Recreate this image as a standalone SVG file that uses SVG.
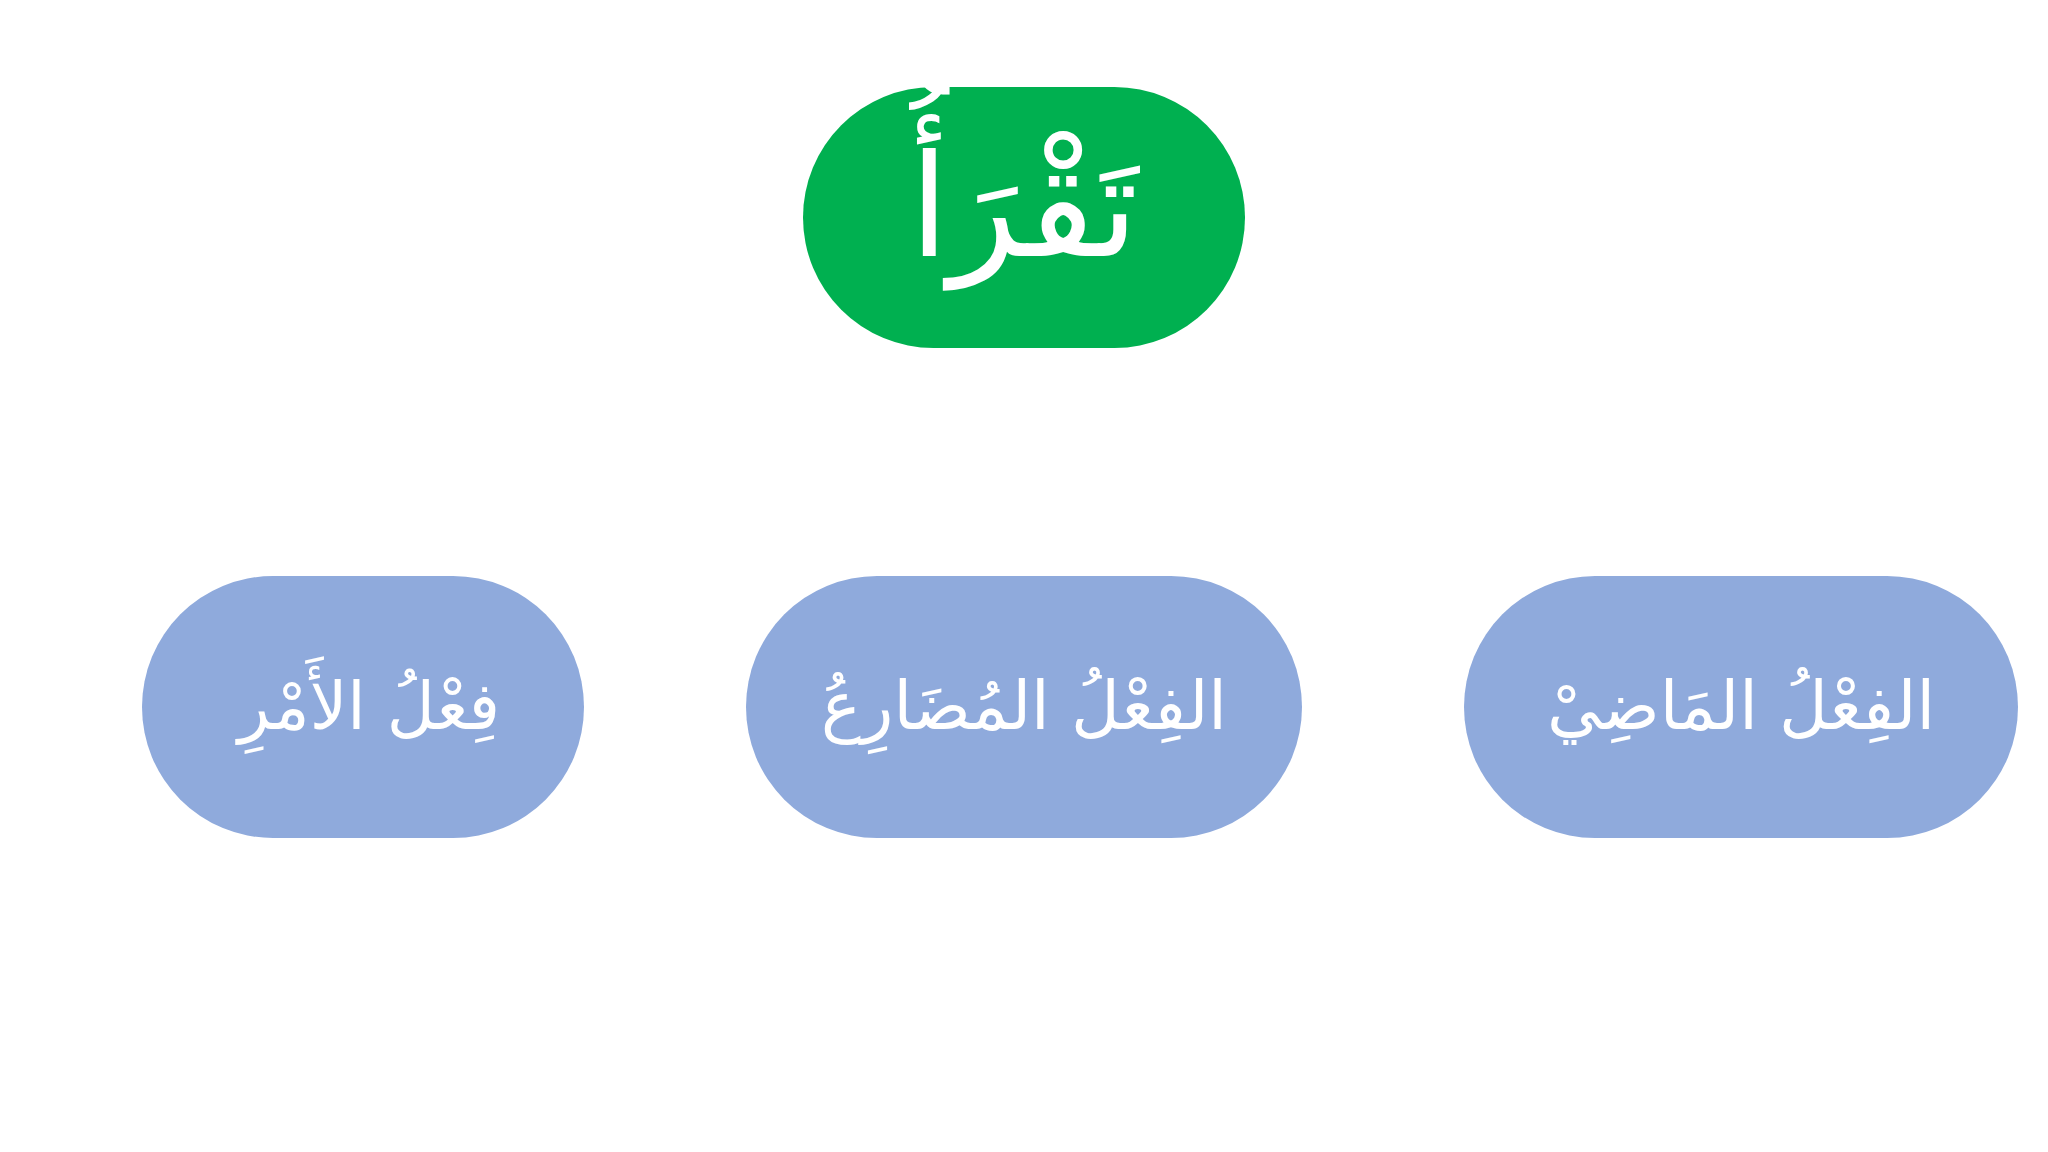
<svg xmlns="http://www.w3.org/2000/svg" width="2048" height="1152" viewBox="0 0 2048 1152">
<style>
.t{font-family:"DejaVu Sans",sans-serif;fill:#ffffff;text-anchor:middle;direction:rtl}
.b{fill:#8FAADC}
</style>
<rect width="2048" height="1152" fill="#ffffff"/>
<g id="connectors"></g>
<g id="node-top">
<rect x="803" y="87" width="442" height="261" rx="130.5" fill="#00B050"/>
<text class="t" x="1024" y="256" font-size="142">تَقْرَأُ</text>
</g>
<g id="node-amr">
<rect class="b" x="142" y="576" width="442" height="262" rx="131"/>
<text class="t" x="369" y="729" font-size="66">فِعْلُ الأَمْرِ</text>
</g>
<g id="node-mudari">
<rect class="b" x="746" y="576" width="556" height="262" rx="131"/>
<text class="t" x="1024" y="729" font-size="67">الفِعْلُ المُضَارِعُ</text>
</g>
<g id="node-madi">
<rect class="b" x="1464" y="576" width="554" height="262" rx="131"/>
<text class="t" x="1741" y="729" font-size="67">الفِعْلُ المَاضِيْ</text>
</g>
</svg>
